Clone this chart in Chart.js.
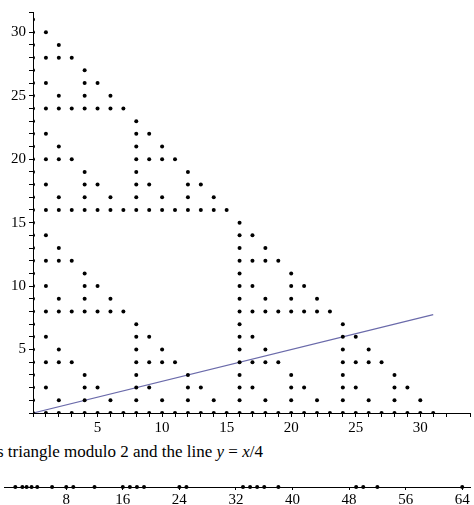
<!DOCTYPE html>
<html>
<head>
<meta charset="utf-8">
<script src="https://cdn.jsdelivr.net/npm/chart.js@4"></script>
<style>
  body { margin: 0; background: #fff; width: 474px; height: 505px; overflow: hidden; position: relative; }
  #top { position: absolute; left: 0; top: 0; width: 474px; height: 440px; }
  #strip { position: absolute; left: 0; top: 462px; width: 474px; height: 43px; }
  #caption { position: absolute; left: -3px; top: 442px; font: 17px "Liberation Serif", serif; white-space: nowrap; }
</style>
</head>
<body>
<div id="top"><canvas id="tri"></canvas></div>
<div id="caption">s triangle modulo 2 and the line <i>y</i> = <i>x</i>/4</div>
<div id="strip"><canvas id="line"></canvas></div>
<script>
// 파스칼 삼각형 mod 2: 행(y)마다 홀수인 x 위치
const rowXs = [
  [0,1,2,3,4,5,6,7,8,9,10,11,12,13,14,15,16,17,18,19,20,21,22,23,24,25,26,27,28,29,30,31],
  [0,2,4,6,8,10,12,14,16,18,20,22,24,26,28,30],
  [0,1,4,5,8,9,12,13,16,17,20,21,24,25,28,29],
  [0,4,8,12,16,20,24,28],
  [0,1,2,3,8,9,10,11,16,17,18,19,24,25,26,27],
  [0,2,8,10,16,18,24,26],
  [0,1,8,9,16,17,24,25],
  [0,8,16,24],
  [0,1,2,3,4,5,6,7,16,17,18,19,20,21,22,23],
  [0,2,4,6,16,18,20,22],
  [0,1,4,5,16,17,20,21],
  [0,4,16,20],
  [0,1,2,3,16,17,18,19],
  [0,2,16,18],
  [0,1,16,17],
  [0,16],
  [0,1,2,3,4,5,6,7,8,9,10,11,12,13,14,15],
  [0,2,4,6,8,10,12,14],
  [0,1,4,5,8,9,12,13],
  [0,4,8,12],
  [0,1,2,3,8,9,10,11],
  [0,2,8,10],
  [0,1,8,9],
  [0,8],
  [0,1,2,3,4,5,6,7],
  [0,2,4,6],
  [0,1,4,5],
  [0,4],
  [0,1,2,3],
  [0,2],
  [0,1],
  [0]
];
// 직선 y = x/4
const lineX = [0, 31];
const lineY = [0, 7.75];
// 아래 수직선 위의 점
const stripValues = [0.8,1.8,2.4,3.1,3.9,6,8,9,12,16,17,18,19,24,25,33,34,35,36,38,49,50,52,64];
const stripTicks = [8,16,24,32,40,48,56,64];

Chart.defaults.font.family = '"Times New Roman", "Liberation Serif", serif';
Chart.defaults.font.size = 15;
Chart.defaults.color = '#000';

function drawCharts() {
  const triPoints = [];
  rowXs.forEach((xs, y) => xs.forEach(x => triPoints.push({ x: x, y: y })));

  new Chart(document.getElementById('tri'), {
    type: 'scatter',
    data: {
      datasets: [{
        data: triPoints,
        backgroundColor: '#000',
        borderWidth: 0,
        pointRadius: 2
      }, {
        type: 'line',
        data: lineX.map((x, i) => ({ x: x, y: lineY[i] })),
        borderColor: '#6a6aaa',
        borderWidth: 1.2,
        pointRadius: 0
      }]
    },
    options: {
      responsive: true,
      maintainAspectRatio: false,
      animation: false,
      layout: { padding: 0 },
      plugins: { legend: { display: false }, tooltip: { enabled: false } },
      scales: {
        x: {
          type: 'linear', min: 0, max: 33.85,
          afterFit: s => { s.height = 27; },
          border: { color: '#000', width: 1 },
          grid: { drawOnChartArea: false, color: '#000', tickLength: 4 },
          ticks: {
            stepSize: 1, maxRotation: 0, autoSkip: false, padding: 2,
            callback: v => (v > 0 && v % 5 === 0) ? v : ''
          }
        },
        y: {
          type: 'linear', min: 0, max: 31.6,
          afterFit: s => { s.width = 33; },
          border: { color: '#000', width: 1 },
          grid: { drawOnChartArea: false, color: '#000', tickLength: 4 },
          ticks: {
            stepSize: 1, autoSkip: false,
            callback: v => (v > 0 && v % 5 === 0) ? v : ''
          }
        }
      }
    }
  });

  new Chart(document.getElementById('line'), {
    type: 'scatter',
    data: {
      datasets: [{
        data: stripValues.map(v => ({ x: v, y: 0 })),
        backgroundColor: '#000',
        borderWidth: 0,
        pointRadius: 2,
        clip: false
      }]
    },
    options: {
      responsive: true,
      maintainAspectRatio: false,
      animation: false,
      layout: { padding: 0 },
      plugins: { legend: { display: false }, tooltip: { enabled: false } },
      scales: {
        x: {
          type: 'linear', min: -0.8, max: 65.1,
          afterFit: s => { s.height = 18; },
          border: { color: '#000', width: 1 },
          grid: { drawOnChartArea: false, color: '#000', tickLength: 3 },
          afterBuildTicks: s => { s.ticks = stripTicks.map(v => ({ value: v })); },
          ticks: { maxRotation: 0, autoSkip: false, padding: 1 }
        },
        y: { display: false, min: 0, max: 1 }
      }
    }
  });
}

document.fonts.load("15px 'Liberation Serif'").then(drawCharts, drawCharts);
</script>
</body>
</html>
